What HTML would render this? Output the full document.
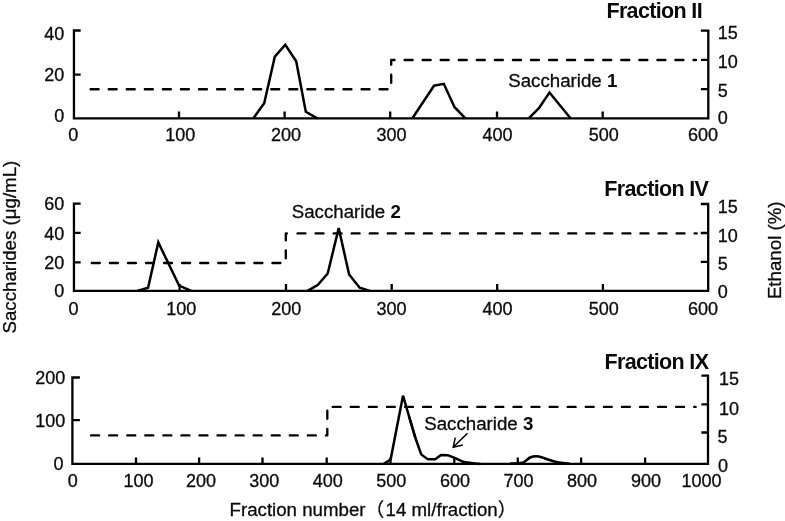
<!DOCTYPE html>
<html lang="en"><head><meta charset="utf-8"><title>Saccharide fractions</title>
<style>
html,body{margin:0;padding:0;background:#fff;}
body{width:785px;height:521px;overflow:hidden;}
svg{display:block;}
text{font-family:"Liberation Sans","Noto Sans CJK JP",sans-serif;font-size:18.7px;fill:#0a0a0a;stroke:#0a0a0a;stroke-width:0.3px;}
.b{font-weight:bold;stroke:none;}
.n{font-size:18px;}
.t{font-weight:bold;font-size:21.5px;letter-spacing:-0.65px;stroke:none;}
.ax{fill:none;stroke:#000;stroke-width:2.3;stroke-linejoin:miter;stroke-linecap:butt;}
.pk{fill:none;stroke:#000;stroke-width:2.5;stroke-linejoin:miter;stroke-miterlimit:4;stroke-linecap:butt;}
.ds{fill:none;stroke:#000;stroke-width:2.35;stroke-linejoin:round;stroke-linecap:round;stroke-dashoffset:-0.85;}
.ar{fill:none;stroke:#000;stroke-width:1.5;stroke-linecap:butt;stroke-linejoin:miter;}
</style></head><body>
<svg width="785" height="521" viewBox="0 0 785 521">
<rect x="0" y="0" width="785" height="521" fill="#ffffff"/>
<path class="ax" d="M80.65,30.5 H73.95 V118.3 H708.3 V30.6 H700.9 M73.95,74.6 H80.65 M708.3,59.8 H700.9 M708.3,89.2 H700.9 M179,118.3 V111.5 M284.6,118.3 V111.5 M390.2,118.3 V111.5 M497,118.3 V111.5 M602.7,118.3 V111.5"/>
<path class="ds" stroke-dasharray="7.95 10.11" d="M89.8,89.2 H391.2 V60 H696"/>
<polyline class="pk" points="253.4,118.3 264.2,103.2 274.8,56.6 285.3,44.7 296.2,61.3 305.8,111.8 317.3,118.3"/>
<polyline class="pk" points="412.4,118.3 434,85.7 443.8,83.8 454.6,107.2 465.4,118.3"/>
<polyline class="pk" points="528.7,118.3 538.9,108.1 549.5,92.5 570.5,118.3"/>
<text x="64.2" y="40.2" text-anchor="end" class="n">40</text>
<text x="64.2" y="80.9" text-anchor="end" class="n">20</text>
<text x="64.2" y="121.8" text-anchor="end" class="n">0</text>
<text x="717.7" y="38.6" class="n">15</text>
<text x="717.7" y="68" class="n">10</text>
<text x="717.7" y="96.5" class="n">5</text>
<text x="717.7" y="124.3" class="n">0</text>
<text x="73.3" y="141.2" text-anchor="middle" class="n">0</text>
<text x="180.3" y="141.2" text-anchor="middle" class="n">100</text>
<text x="286" y="141.2" text-anchor="middle" class="n">200</text>
<text x="391.5" y="141.2" text-anchor="middle" class="n">300</text>
<text x="497.5" y="141.2" text-anchor="middle" class="n">400</text>
<text x="603.8" y="141.2" text-anchor="middle" class="n">500</text>
<text x="703.1" y="141.2" text-anchor="middle" class="n">600</text>
<text x="702" y="18.4" text-anchor="end" class="t">Fraction II</text>
<text x="508.2" y="87.3">Saccharide <tspan class="b">1</tspan></text>
<path class="ax" d="M80.65,203.7 H73.95 V290.9 H708.2 V204 H700.8 M73.95,232.9 H80.65 M73.95,262.3 H80.65 M708.2,233 H700.8 M708.2,261.8 H700.8 M179.6,290.9 V284.1 M286,290.9 V284.1 M391.7,290.9 V284.1 M497.2,290.9 V284.1 M602.9,290.9 V284.1"/>
<path class="ds" stroke-dasharray="7.95 10.11" d="M91,263 H285.8 V233.4 H290"/>
<path class="ds" stroke-dasharray="7.9 10.15" d="M296.7,233.4 H696.6"/>
<polyline class="pk" points="137.3,290.9 148.1,287.7 158.3,242.4 179.1,285.6 191.3,290.9"/>
<polyline class="pk" points="307.7,290.9 317.9,284.7 327.7,273.5 338.7,228.1 349.1,274.5 359.7,287.7 369.9,290.9"/>
<text x="64.2" y="210.2" text-anchor="end" class="n">60</text>
<text x="64.2" y="239.5" text-anchor="end" class="n">40</text>
<text x="64.2" y="269.2" text-anchor="end" class="n">20</text>
<text x="64.2" y="297" text-anchor="end" class="n">0</text>
<text x="717.7" y="212.8" class="n">15</text>
<text x="717.7" y="242" class="n">10</text>
<text x="717.7" y="270.3" class="n">5</text>
<text x="717.7" y="298.3" class="n">0</text>
<text x="73.6" y="315.3" text-anchor="middle" class="n">0</text>
<text x="181.3" y="315.3" text-anchor="middle" class="n">100</text>
<text x="286.2" y="315.3" text-anchor="middle" class="n">200</text>
<text x="391.5" y="315.3" text-anchor="middle" class="n">300</text>
<text x="497.5" y="315.3" text-anchor="middle" class="n">400</text>
<text x="603.8" y="315.3" text-anchor="middle" class="n">500</text>
<text x="703.1" y="315.3" text-anchor="middle" class="n">600</text>
<text x="708.3" y="196" text-anchor="end" class="t">Fraction IV</text>
<text x="291.7" y="218.3">Saccharide <tspan class="b">2</tspan></text>
<path class="ax" d="M79.9,377.5 H72.4 V463.8 H708 V375.6 H701.4 M72.4,420.2 H79.9 M708,404.4 H701.4 M708,432.5 H701.4 M136,463.8 V457.4 M199.1,463.8 V457.4 M262.5,463.8 V457.4 M326.7,463.8 V457.4 M390.5,463.8 V457.4 M454.3,463.8 V457.4 M517.8,463.8 V457.4 M581.1,463.8 V457.4 M645.1,463.8 V457.4"/>
<path class="ds" stroke-dasharray="7.95 10.11" d="M90.3,435.4 H327.3 V410.3"/>
<path class="ds" stroke-dasharray="7.85 10.225" d="M331.9,406.9 H695.6"/>
<path class="pk" d="M383.8,463.8 L390.6,459.6 L403,395.7 L415.4,438"/>
<path class="pk" style="stroke-linejoin:round" d="M409.2,417 L415.4,438 L421.2,454.4 Q424.5,457.2 428,459.3 L435.2,459.3 L441,455 L447.6,455.2 L454,457.7 L461.7,461.2 C467,462.9 472,463.4 480.5,463.9"/>
<path class="pk" d="M510.2,463.6 C515,463.6 519.5,463.4 523.2,462.4 C526,461.4 528,458.5 530.1,457.5 C532,456.6 534,456.2 536.1,456.2 C538.2,456.2 540.2,456.8 542.2,457.5 C546,458.8 549,460 552.5,461 C556,462 559.5,462.6 562.9,463 L569.8,463.7"/>
<path class="ar" d="M467.5,433.3 L453.6,446.8 M455.3,437.6 L453.2,447.2 L462.9,444.9"/>
<text x="65.3" y="384" text-anchor="end" class="n">200</text>
<text x="65.3" y="426.6" text-anchor="end" class="n">100</text>
<text x="63.6" y="470.3" text-anchor="end" class="n">0</text>
<text x="718.9" y="385.2" class="n">15</text>
<text x="718.9" y="414.7" class="n">10</text>
<text x="717.6" y="442.6" class="n">5</text>
<text x="717.9" y="472.1" class="n">0</text>
<text x="72.8" y="487.2" text-anchor="middle" class="n">0</text>
<text x="138.4" y="487.2" text-anchor="middle" class="n">100</text>
<text x="200.9" y="487.2" text-anchor="middle" class="n">200</text>
<text x="264.3" y="487.2" text-anchor="middle" class="n">300</text>
<text x="327.8" y="487.2" text-anchor="middle" class="n">400</text>
<text x="391.3" y="487.2" text-anchor="middle" class="n">500</text>
<text x="455" y="487.2" text-anchor="middle" class="n">600</text>
<text x="518.5" y="487.2" text-anchor="middle" class="n">700</text>
<text x="582" y="487.2" text-anchor="middle" class="n">800</text>
<text x="646.1" y="487.2" text-anchor="middle" class="n">900</text>
<text x="701.6" y="487.2" text-anchor="middle" class="n">1000</text>
<text x="708.4" y="368.9" text-anchor="end" class="t">Fraction IX</text>
<text x="424.2" y="430.0">Saccharide <tspan class="b">3</tspan></text>
<text transform="translate(16.2,333.5) rotate(-90)">Saccharides (μg/mL)</text>
<text transform="translate(781.3,299.1) rotate(-90)">Ethanol (%)</text>
<text x="229.5" y="516.4">Fraction number（<tspan dx="1.3">14 ml/fraction</tspan>）</text>
</svg>
</body></html>
